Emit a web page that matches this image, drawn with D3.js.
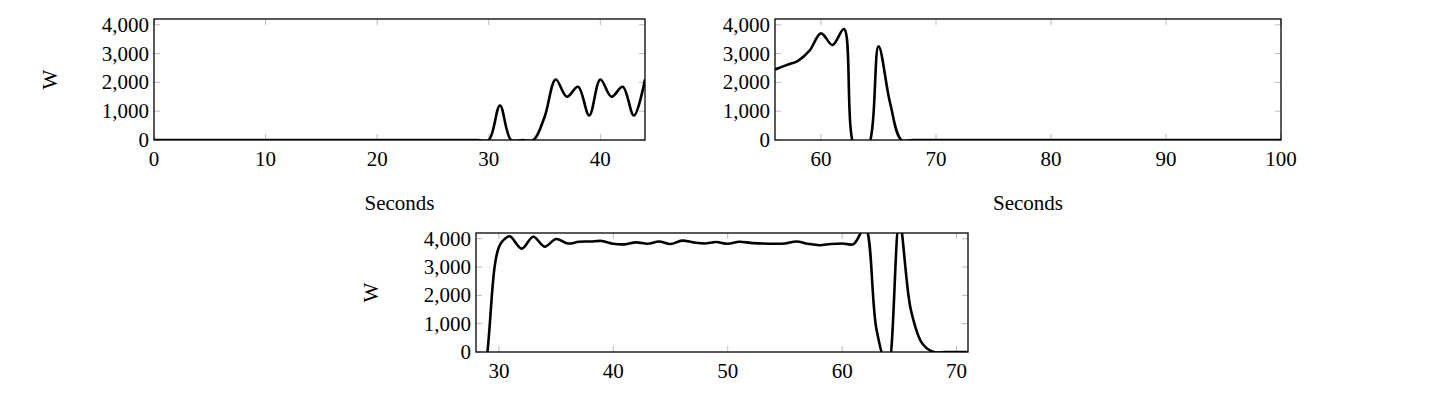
<!DOCTYPE html>
<html><head><meta charset="utf-8">
<script src="https://cdn.jsdelivr.net/npm/d3@7"></script>
<style>body{margin:0;background:#fff}text{font-family:"Liberation Serif","DejaVu Serif",serif;fill:#000}</style>
</head><body><svg id="c" width="1431" height="404"></svg>
<script>
const yTicks=[0,1000,2000,3000,4000];
const p1X=[0,5,10,15,20,25,28,29,30,31,32,33,34,35,36,37,38,39,40,41,42,43,44];
const p1Y=[0,0,0,0,0,0,0,0,0,1200,0,0,0,800,2100,1500,1850,850,2100,1500,1850,850,2100];
const p1Ticks=[0,10,20,30,40];
const p2X=[56,57,58,59,60,61,62,63,64,65,66,67,68,70,80,90,100];
const p2Y=[2450,2600,2750,3100,3700,3300,3850,-300,-300,3250,1300,0,0,0,0,0,0];
const p2Ticks=[60,70,80,90,100];
const p3X=[28,29,30,30.7,31,32,33,34,35,36,37,38,39,40,41,42,43,44,45,46,47,48,49,50,51,52,53,54,55,56,57,58,59,60,61,62,63,64,65,66,67,68,69,70,71];
const p3Y=[-3800,0,3700,4050,4080,3650,4070,3720,3990,3830,3890,3900,3920,3820,3800,3870,3820,3900,3810,3930,3870,3830,3880,3820,3890,3850,3830,3820,3830,3900,3820,3770,3810,3830,3810,4400,800,-600,4600,1500,300,0,0,0,0];
const p3Ticks=[30,40,50,60,70];
const svg=d3.select("#c");
const fmt=d3.format(",");
function panel(id,X,Y,xd,ticks,l,r,t,b,wLabel,sec){
  const x=d3.scaleLinear().domain(xd).range([l,r]);
  const y=d3.scaleLinear().domain([0,4200]).range([b,t]);
  const g=svg.append("g");
  g.append("clipPath").attr("id",id).append("rect").attr("x",l).attr("y",t).attr("width",r-l).attr("height",b-t);
  const gc="#bbb";
  ticks.forEach(v=>{g.append("line").attr("x1",x(v)).attr("x2",x(v)).attr("y1",b).attr("y2",b-6).attr("stroke",gc);
    g.append("line").attr("x1",x(v)).attr("x2",x(v)).attr("y1",t).attr("y2",t+6).attr("stroke",gc);
    g.append("text").attr("x",x(v)).attr("y",b+26).attr("text-anchor","middle").attr("font-size",21).text(v);});
  yTicks.forEach(v=>{g.append("line").attr("x1",l).attr("x2",l+6).attr("y1",y(v)).attr("y2",y(v)).attr("stroke",gc);
    g.append("line").attr("x1",r).attr("x2",r-6).attr("y1",y(v)).attr("y2",y(v)).attr("stroke",gc);
    g.append("text").attr("x",l-5).attr("y",y(v)+7).attr("text-anchor","end").attr("font-size",21).text(fmt(v));});
  const line=d3.line().x((d,i)=>x(X[i])).y(d=>y(d)).curve(d3.curveCatmullRom);
  g.append("path").attr("d",line(Y)).attr("fill","none").attr("stroke","#000").attr("stroke-width",2.6).attr("clip-path",`url(#${id})`);
  g.append("rect").attr("x",l).attr("y",t).attr("width",r-l).attr("height",b-t).attr("fill","none").attr("stroke","#000").attr("stroke-width",1.3);
  if(wLabel) g.append("text").attr("transform",`translate(${wLabel},${(t+b)/2}) rotate(-90)`).attr("text-anchor","middle").attr("font-size",21).text("W");
  if(sec) g.append("text").attr("x",(l+r)/2).attr("y",210).attr("text-anchor","middle").attr("font-size",21).text("Seconds");
}
panel("c1",p1X,p1Y,[0,44],p1Ticks,154,645,19,140,57,true);
panel("c2",p2X,p2Y,[56,100],p2Ticks,775,1281,19,140,null,true);
panel("c3",p3X,p3Y,[28,71],p3Ticks,476,968,233,352,378,false);
</script></body></html>
